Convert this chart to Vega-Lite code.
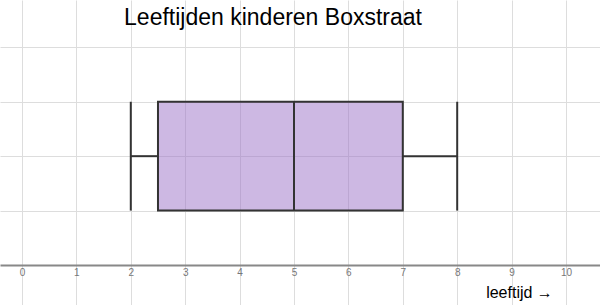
{
  "$schema": "https://vega.github.io/schema/vega-lite/v6.json",
  "width": 600,
  "height": 305,
  "autosize": {"type": "none"},
  "padding": 0,
  "background": "white",
  "title": {
    "text": "Leeftijden kinderen Boxstraat",
    "font": "Liberation Sans",
    "fontSize": 23,
    "fontWeight": "normal",
    "color": "#000000",
    "anchor": "middle",
    "dx": -27,
    "offset": -48,
    "baseline": "alphabetic"
  },
  "config": {"view": {"stroke": null}},
  "data": {"values": [{"min": 2, "q1": 2.5, "median": 5, "q3": 7, "max": 8}]},
  "layer": [
    {
      "mark": {"type": "rule", "color": "#333333", "strokeWidth": 2},
      "encoding": {
        "x": {
          "field": "min", "type": "quantitative",
          "scale": {"domain": [-0.404, 10.625], "nice": false, "zero": false},
          "axis": {"orient": "bottom", "grid": true, "gridColor": "#dddddd", "gridWidth": 1, "labels": false, "ticks": false, "domain": false, "title": null, "values": [0,1,2,3,4,5,6,7,8,9,10]}
        },
        "x2": {"field": "q1"},
        "y": {
          "datum": 2, "type": "quantitative",
          "scale": {"domain": [-0.735, 4.87], "nice": false, "zero": false},
          "axis": {"grid": true, "gridColor": "#dddddd", "gridWidth": 1, "labels": false, "ticks": false, "domain": false, "title": null, "values": [1,2,3,4]}
        }
      }
    },
    {
      "mark": {"type": "rule", "color": "#333333", "strokeWidth": 2},
      "encoding": {
        "x": {"field": "q3", "type": "quantitative", "axis": null},
        "x2": {"field": "max"},
        "y": {"datum": 2, "type": "quantitative", "axis": null}
      }
    },
    {
      "mark": {"type": "rect", "fill": "#9c72c8", "fillOpacity": 0.5, "stroke": "#333333", "strokeWidth": 2},
      "encoding": {
        "x": {"field": "q1", "type": "quantitative", "axis": null},
        "x2": {"field": "q3"},
        "y": {"datum": 1, "type": "quantitative", "axis": null},
        "y2": {"datum": 3}
      }
    },
    {
      "mark": {"type": "rule", "color": "#333333", "strokeWidth": 2},
      "encoding": {
        "x": {"field": "median", "type": "quantitative", "axis": null},
        "y": {"datum": 1, "type": "quantitative", "axis": null},
        "y2": {"datum": 3}
      }
    },
    {
      "mark": {"type": "rule", "color": "#333333", "strokeWidth": 2},
      "encoding": {
        "x": {"field": "min", "type": "quantitative", "axis": null},
        "y": {"datum": 1, "type": "quantitative", "axis": null},
        "y2": {"datum": 3}
      }
    },
    {
      "mark": {"type": "rule", "color": "#333333", "strokeWidth": 2},
      "encoding": {
        "x": {
          "field": "max", "type": "quantitative",
          "axis": {
            "orient": "bottom",
            "offset": -40,
            "grid": false,
            "values": [0,1,2,3,4,5,6,7,8,9,10],
            "domainColor": "#888888",
            "domainWidth": 2,
            "ticks": false,
            "labelFont": "Liberation Sans",
            "labelFontSize": 10,
            "labelColor": "#777777",
            "labelPadding": 2,
            "title": "leeftijd →",
            "titleFont": "Liberation Sans",
            "titleFontSize": 16,
            "titleFontWeight": "normal",
            "titleColor": "#000000",
            "titleX": 519,
            "titleY": 32,
            "titleAlign": "center",
            "titleBaseline": "alphabetic"
          }
        },
        "y": {"datum": 1, "type": "quantitative", "axis": null},
        "y2": {"datum": 3}
      }
    }
  ],
  "resolve": {"axis": {"x": "independent", "y": "independent"}}
}
